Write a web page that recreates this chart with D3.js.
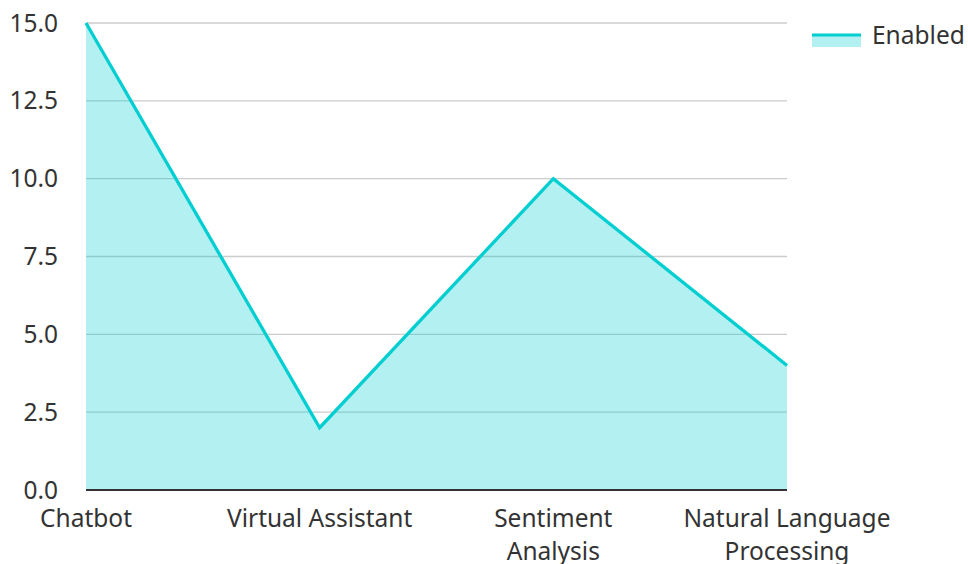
<!DOCTYPE html>
<html>
<head>
<meta charset="utf-8">
<script src="https://cdn.jsdelivr.net/npm/d3@7"></script>
<style>
  body { margin: 0; background: #fff; }
  svg text { font-family: "Noto Sans", sans-serif; fill: #333; }
</style>
</head>
<body>
<svg width="968" height="564"></svg>
<script>
// chart data
var categories = ["Chatbot", "Virtual Assistant", "Sentiment Analysis", "Natural Language Processing"];
var enabled = [15, 2, 10, 4];
var yTicks = [0, 2.5, 5, 7.5, 10, 12.5, 15];
var seriesName = "Enabled";

var lineColor = "#00ced1";
var fillColor = "rgba(0, 206, 209, 0.3)";

var svg = d3.select("svg");
var margin = {left: 86, right: 181, top: 23, bottom: 74};
var width = 968 - margin.left - margin.right;
var height = 564 - margin.top - margin.bottom;

var g = svg.append("g").attr("transform", "translate(" + margin.left + "," + margin.top + ")");

var x = d3.scalePoint().domain(categories).range([0, width]);
var y = d3.scaleLinear().domain([0, 15]).range([height, 0]);

// grid lines
g.append("g")
  .selectAll("line")
  .data(yTicks)
  .join("line")
  .attr("x1", 0)
  .attr("x2", width)
  .attr("y1", d => y(d))
  .attr("y2", d => y(d))
  .attr("stroke", "#cccccc")
  .attr("stroke-width", 1.3);

// y labels
g.append("g")
  .selectAll("text")
  .data(yTicks)
  .join("text")
  .attr("x", -28)
  .attr("y", d => y(d))
  .attr("dy", "0.35em")
  .attr("text-anchor", "end")
  .style("font-size", "24.5px")
  .text(d => d.toFixed(1));

var points = categories.map((c, i) => ({cat: c, v: enabled[i]}));

var area = d3.area()
  .x(d => x(d.cat))
  .y0(y(0))
  .y1(d => y(d.v));

var line = d3.line()
  .x(d => x(d.cat))
  .y(d => y(d.v));

g.append("path")
  .datum(points)
  .attr("d", area)
  .attr("fill", fillColor);

g.append("path")
  .datum(points)
  .attr("d", line)
  .attr("fill", "none")
  .attr("stroke", lineColor)
  .attr("stroke-width", 3.3);

// x axis
g.append("line")
  .attr("x1", 0)
  .attr("x2", width)
  .attr("y1", height)
  .attr("y2", height)
  .attr("stroke", "#333")
  .attr("stroke-width", 2);

var xLabels = g.append("g")
  .selectAll("text")
  .data(categories)
  .join("text")
  .attr("x", d => x(d))
  .attr("y", height + 37)
  .attr("text-anchor", "middle")
  .style("font-size", "24.5px");

// wrap labels to the spacing between points
xLabels.each(function(d) {
  var el = d3.select(this);
  var words = d.split(" ");
  var lines = [];
  var cur = "";
  var tmp = el.append("tspan");
  words.forEach(function(w) {
    var test = cur ? cur + " " + w : w;
    tmp.text(test);
    if (cur && tmp.node().getComputedTextLength() > 210) {
      lines.push(cur);
      cur = w;
    } else {
      cur = test;
    }
  });
  lines.push(cur);
  tmp.remove();
  lines.forEach(function(l, i) {
    el.append("tspan")
      .attr("x", x(d))
      .attr("dy", i === 0 ? 0 : "1.33em")
      .text(l);
  });
});

// legend
var legend = svg.append("g").attr("transform", "translate(812, 35)");
legend.append("rect")
  .attr("x", 0)
  .attr("y", 0)
  .attr("width", 49)
  .attr("height", 12)
  .attr("fill", fillColor);
legend.append("line")
  .attr("x1", 0)
  .attr("x2", 49)
  .attr("y1", 0)
  .attr("y2", 0)
  .attr("stroke", lineColor)
  .attr("stroke-width", 3);
legend.append("text")
  .attr("x", 60)
  .attr("y", 0)
  .attr("dy", "0.35em")
  .style("font-size", "24.5px")
  .text(seriesName);
</script>
</body>
</html>
